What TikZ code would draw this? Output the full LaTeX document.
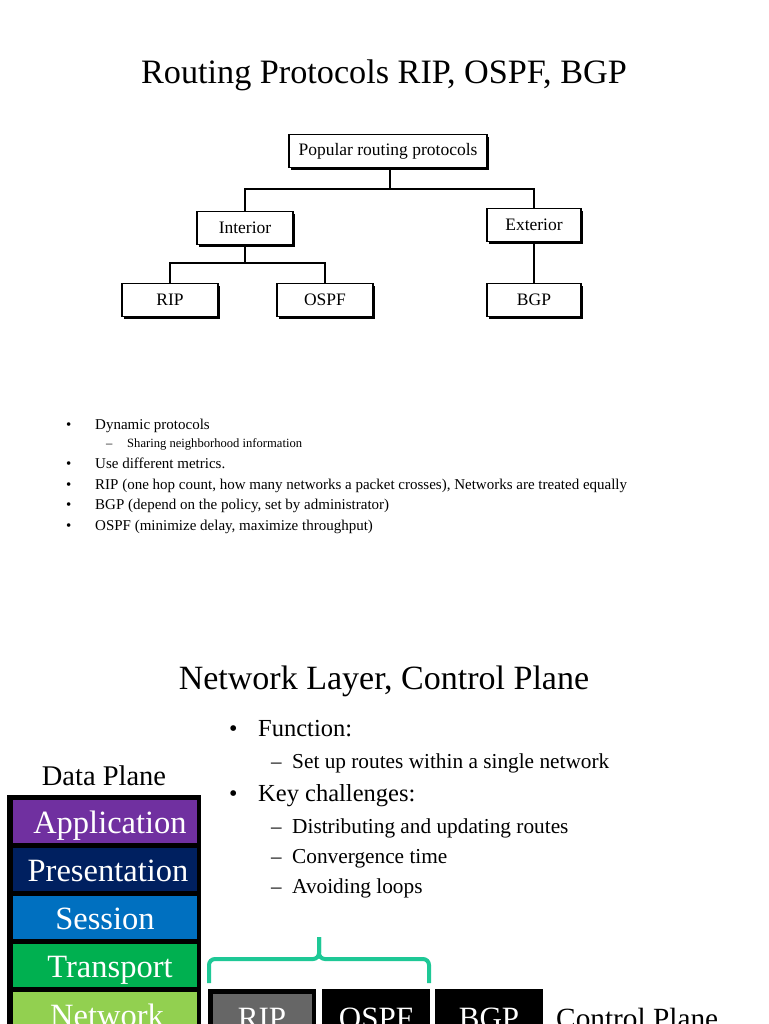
\documentclass[tikz,border=0pt]{standalone}
\usepackage{fontspec}
\setmainfont{Liberation Serif}
\usetikzlibrary{shadows}
\definecolor{appc}{HTML}{7030A0}
\definecolor{prec}{HTML}{002060}
\definecolor{sesc}{HTML}{0070C0}
\definecolor{trac}{HTML}{00B050}
\definecolor{netc}{HTML}{92D050}
\definecolor{ripc}{HTML}{666666}
\definecolor{bracec}{RGB}{30,200,150}
\newcommand{\fs}[1]{\fontsize{#1pt}{#1pt}\selectfont}
\begin{document}
\begin{tikzpicture}[x=1pt,y=-1pt,
  treebox/.style={draw=black,line width=1.2pt,fill=white,inner sep=0pt,
    font=\fs{17.5},minimum height=33pt,
    drop shadow={shadow xshift=2.2pt,shadow yshift=-2.2pt,fill=black,opacity=1}},
  treeline/.style={line width=1.4pt,black},
  txt/.style={inner sep=0pt,anchor=base west},
  layer/.style={inner sep=0pt,minimum width=184pt,minimum height=43.5pt,anchor=north west},
  layertxt/.style={inner sep=0pt,anchor=base,text=white,font=\fs{32.5}},
  cpbox/.style={fill=black,inner sep=0pt,minimum width=108pt,minimum height=50pt,anchor=north west},
  bracestyle/.style={draw=bracec,line width=4pt,rounded corners=6pt}
]
\useasboundingbox (0,0) rectangle (768,1024);
\fill[white] (0,0) rectangle (768,1024);

% ---------- Slide 1 ----------
\node[txt,anchor=base,font=\fs{34.2}] (t1) at (384,84) {Routing Protocols RIP, OSPF, BGP};

\node[treebox,minimum width=198pt] (pop) at (388,151) {Popular routing protocols};
\node[treebox,minimum width=96pt] (int) at (245,228) {Interior};
\node[treebox,minimum width=94pt] (ext) at (534,225) {Exterior};
\node[treebox,minimum width=96pt] (rip) at (170,300) {RIP};
\node[treebox,minimum width=96pt] (ospf) at (325,300) {OSPF};
\node[treebox,minimum width=94pt] (bgp) at (534,300) {BGP};

\coordinate (j1) at (390,189);
\coordinate (j2) at (245,263);
\draw[treeline] (pop.south -| j1) -- (j1);
\draw[treeline] (int.north) |- (ext.north |- j1) -- (ext.north);
\draw[treeline] (int.south) -- (j2);
\draw[treeline] (rip.north) |- (ospf.north |- j2) -- (ospf.north);
\draw[treeline] (ext.south) -- (bgp.north);

\begin{scope}[font=\fs{15}]
\node[txt] (b1d) at (66,429) {•};
\node[txt] (b1) at (95,429) {Dynamic protocols};
\node[txt,font=\fs{12.6}] (s1d) at (106,447) {–};
\node[txt,font=\fs{12.6}] (s1) at (127,447) {Sharing neighborhood information};
\node[txt] (b2d) at (66,468) {•};
\node[txt] (b2) at (95,468) {Use different metrics.};
\node[txt] (b3d) at (66,489) {•};
\node[txt] (b3) at (95,489) {RIP (one hop count, how many networks a packet crosses), Networks are treated equally};
\node[txt] (b4d) at (66,509) {•};
\node[txt] (b4) at (95,509) {BGP (depend on the policy, set by administrator)};
\node[txt] (b5d) at (66,530) {•};
\node[txt] (b5) at (95,530) {OSPF (minimize delay, maximize throughput)};
\end{scope}

% ---------- Slide 2 ----------
\node[txt,anchor=base,font=\fs{34}] (t2) at (384,689) {Network Layer, Control Plane};

\node[txt,font=\fs{24}] (f1d) at (229,736) {•};
\node[txt,font=\fs{24.5}] (f1) at (258,736) {Function:};
\node[txt,font=\fs{21}] (f2d) at (271,768) {–};
\node[txt,font=\fs{21.3}] (f2) at (292,768) {Set up routes within a single network};
\node[txt,font=\fs{24}] (k1d) at (229,801) {•};
\node[txt,font=\fs{24.5}] (k1) at (258,801) {Key challenges:};
\node[txt,font=\fs{21}] (k2d) at (271,833) {–};
\node[txt,font=\fs{21.3}] (k2) at (292,833) {Distributing and updating routes};
\node[txt,font=\fs{21}] (k3d) at (271,863) {–};
\node[txt,font=\fs{21.3}] (k3) at (292,863) {Convergence time};
\node[txt,font=\fs{21}] (k4d) at (271,893) {–};
\node[txt,font=\fs{21.3}] (k4) at (292,893) {Avoiding loops};

\node[txt,anchor=base,font=\fs{28.5}] (dp) at (104,785) {Data Plane};

\fill[black] (7,795) rectangle (201,1040);
\node[layer,fill=appc] (app) at (13,799.5) {};
\node[layer,fill=prec] (pre) at (13,847.5) {};
\node[layer,fill=sesc] (ses) at (13,895.5) {};
\node[layer,fill=trac] (tra) at (13,943.5) {};
\node[layer,fill=netc,minimum height=60pt] (net) at (13,991.5) {};
\node[layertxt] at (110,833) {Application};
\node[layertxt] at (108,881) {Presentation};
\node[layertxt] at (105,929) {Session};
\node[layertxt] at (110,977) {Transport};
\node[layertxt] at (107,1026) {Network};

\node[cpbox] (cprip) at (208,989) {};
\fill[ripc] (213,994) rectangle (312,1040);
\node[cpbox] (cpospf) at (322,989) {};
\node[cpbox] (cpbgp) at (435,989) {};
\node[layertxt,font=\fs{31}] (ripl) at (262,1028) {RIP};
\node[layertxt,font=\fs{31}] (ospfl) at (376,1028) {OSPF};
\node[layertxt,font=\fs{31}] (bgpl) at (489,1028) {BGP};
\node[txt,font=\fs{29.3}] (cpl) at (556,1028) {Control Plane};

\coordinate (bl) at (209,983);
\coordinate (br) at (429,983);
\coordinate (bm) at (319,959);
\coordinate (bt) at (319,937);
\draw[bracestyle] (bl) |- (bm) -- (bt);
\draw[bracestyle] (br) |- (bm) -- (bt);
\end{tikzpicture}
\end{document}
